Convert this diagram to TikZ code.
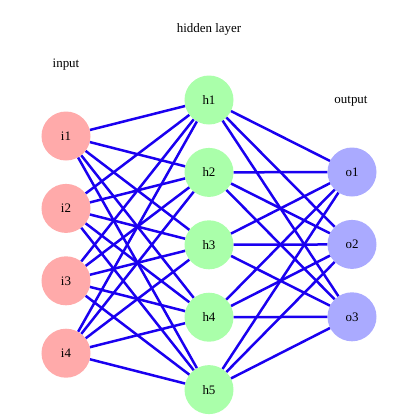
\documentclass[tikz,border=0pt]{standalone}
\usepackage{fontspec}
\setmainfont{Liberation Serif}
\usetikzlibrary{positioning}
\definecolor{inputcol}{HTML}{FFAAAA}
\definecolor{hiddencol}{HTML}{AAFFAA}
\definecolor{outputcol}{HTML}{AAAAFF}
\definecolor{edgecol}{HTML}{1A00F0}
\tikzset{
    neuron/.style={circle, minimum size=49bp, inner sep=0pt, font=\fontsize{13}{16}\selectfont},
    inneuron/.style={neuron, fill=inputcol},
    hidneuron/.style={neuron, fill=hiddencol},
    outneuron/.style={neuron, fill=outputcol},
    layerlabel/.style={font=\fontsize{13}{16}\selectfont},
}
\begin{document}
\begin{tikzpicture}[x=1bp, y=-1bp]
    \useasboundingbox (0,0) rectangle (419,419);
    \node[hidneuron] (h1) at (209,100) {h1};
    \node[hidneuron] (h2)[below=23bp of h1] {h2};
    \node[hidneuron] (h3)[below=23bp of h2] {h3};
    \node[hidneuron] (h4)[below=23bp of h3] {h4};
    \node[hidneuron] (h5)[below=23bp of h4] {h5};
    \node[inneuron] (i1) at (66,136) {i1};
    \node[inneuron] (i2)[below=23bp of i1] {i2};
    \node[inneuron] (i3)[below=23bp of i2] {i3};
    \node[inneuron] (i4)[below=23bp of i3] {i4};
    \node[outneuron] (o1) at (352,172) {o1};
    \node[outneuron] (o2)[below=23bp of o1] {o2};
    \node[outneuron] (o3)[below=23bp of o2] {o3};
    \node[layerlabel] (lin) at (66,65) {input};
    \node[layerlabel] (lhid) at (209,29) {hidden layer};
    \node[layerlabel] (lout) at (351,101) {output};
    \foreach \i in {1,...,4}
        \foreach \h in {1,...,5}
            \draw[edgecol, line width=2.5bp] (i\i) -- (h\h);
    \foreach \h in {1,...,5}
        \foreach \o in {1,...,3}
            \draw[edgecol, line width=2.5bp] (h\h) -- (o\o);
\end{tikzpicture}
\end{document}
